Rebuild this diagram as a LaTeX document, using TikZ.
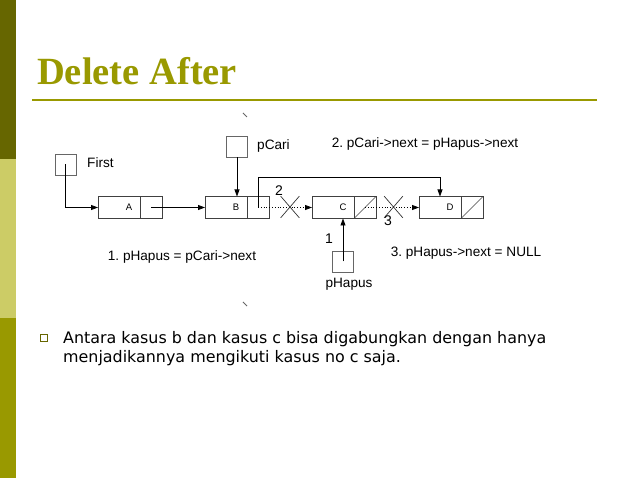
\documentclass[tikz,border=0pt]{standalone}
\usepackage{fontspec}
\setmainfont{Liberation Sans}
\newfontfamily\titlefont{Liberation Serif}
\newfontfamily\bodyfont{DejaVu Sans}
\usetikzlibrary{arrows.meta,shapes.misc,calc}
\definecolor{olivedark}{HTML}{666600}
\definecolor{olivelight}{HTML}{CCCC66}
\definecolor{olivemid}{HTML}{999900}
\frenchspacing
\begin{document}
\begin{tikzpicture}[x=1pt,y=-1pt,
  datapart/.style={draw=black!75, line width=0.7pt, minimum width=42pt, minimum height=22pt, inner sep=0pt, outer sep=0pt},
  ptrpart/.style={draw=black!75, line width=0.7pt, minimum width=22pt, minimum height=22pt, inner sep=0pt, outer sep=0pt},
  varbox/.style={draw=black!60, line width=0.7pt, minimum size=21pt, inner sep=0pt},
  lbl/.style={font=\fontsize{13.6}{15}\selectfont, inner sep=0pt},
  numlbl/.style={font=\fontsize{14}{15}\selectfont, inner sep=0pt},
  letter/.style={font=\fontsize{9.5}{10}\selectfont, inner sep=0pt},
  link/.style={line width=0.8pt, -{Triangle[length=7pt,width=5pt]}},
  dlink/.style={line width=0.8pt, dotted, -{Triangle[length=7pt,width=5pt]}},
  xmark/.style={draw=black!80, line width=0.7pt, cross out, minimum width=18pt, minimum height=21pt, inner sep=0pt},
  tick/.style={draw=black!60, line width=0.8pt},
  bodytxt/.style={font=\bodyfont\fontsize{15.9}{19}\selectfont, inner sep=0pt, anchor=base west}
]
\useasboundingbox (0,0) rectangle (638,478);
% side bar
\fill[olivedark] (0,0) rectangle (16,159);
\fill[olivelight] (0,159) rectangle (16,318);
\fill[olivemid] (0,318) rectangle (16,478);
% title
\node[anchor=base west, inner sep=0pt, font=\titlefont\bfseries\fontsize{38.5}{40}\selectfont, text=olivemid] (title) at (37,85) {Delete After};
\draw[olivemid, line width=2.5pt] (32,100) -- (597,100);
% ticks
\draw[tick] (243,113) -- (247,117);
\draw[tick] (243,302) -- (247,306);
% list nodes
\node[datapart] (A) at (119,207.5) {};
\node[ptrpart] (Ap) at (151,207.5) {};
\node[datapart] (B) at (226,207.5) {};
\node[ptrpart] (Bp) at (258,207.5) {};
\node[datapart] (C) at (333,207.5) {};
\node[ptrpart] (Cp) at (365,207.5) {};
\node[datapart] (D) at (440,207.5) {};
\node[ptrpart] (Dp) at (472,207.5) {};
\draw[line width=0.7pt, black!75] (Cp.south west) -- (Cp.north east);
\draw[line width=0.7pt, black!75] (Dp.south west) -- (Dp.north east);
\node[letter] (la) at (129,207.5) {A};
\node[letter] (lb) at (236,207.5) {B};
\node[letter] (lc) at (343,207.5) {C};
\node[letter] (ld) at (450,207.5) {D};
% variable boxes
\node[varbox] (first) at (65.5,164.5) {};
\node[varbox] (pcari) at (237,146.5) {};
\node[varbox] (phapus) at (343,261.5) {};
\node[lbl, anchor=west] (lfirst) at (87,163) {First};
\node[lbl, anchor=west] (lpcari) at (257,146) {pCari};
\node[lbl] (lphapus) at (349,284) {pHapus};
% connectors
\draw[link] (first.center) |- (A.west);
\draw[link] (Ap.center) -- (B.west);
\draw[link] (pcari.south) -- (pcari.south |- B.north);
\draw[dlink] (Bp.center) -- (C.west);
\draw[dlink] (Cp.center) -- (D.west);
\coordinate (up1) at (258,177);
\coordinate (up2) at (440,177);
\draw[link] (Bp.center) -- (up1) -- (up2) -- (D.north);
\draw[link] (phapus.center) -- (phapus.center |- C.south);
% crosses
\node[xmark] (x1) at (290,207) {};
\node[xmark] (x2) at (393.5,207) {};
% numbers
\node[numlbl] (n2) at (279,191) {2};
\node[numlbl] (n3) at (388,221) {3};
\node[numlbl] (n1) at (329,239) {1};
% statements
\node[lbl] (s1) at (182,257) {1. pHapus = pCari->next};
\node[lbl] (s2) at (425,144) {2. pCari->next = pHapus->next};
\node[lbl] (s3) at (466,253) {3. pHapus->next = NULL};
% bullet text
\node[draw=olivedark, line width=1.6pt, minimum size=7pt, inner sep=0pt] (bullet) at (44,338) {};
\node[bodytxt] (b1) at (63,343.5) {Antara kasus b dan kasus c bisa digabungkan dengan hanya};
\node[bodytxt] (b2) at (63,362.5) {menjadikannya mengikuti kasus no c saja.};
\end{tikzpicture}
\end{document}
